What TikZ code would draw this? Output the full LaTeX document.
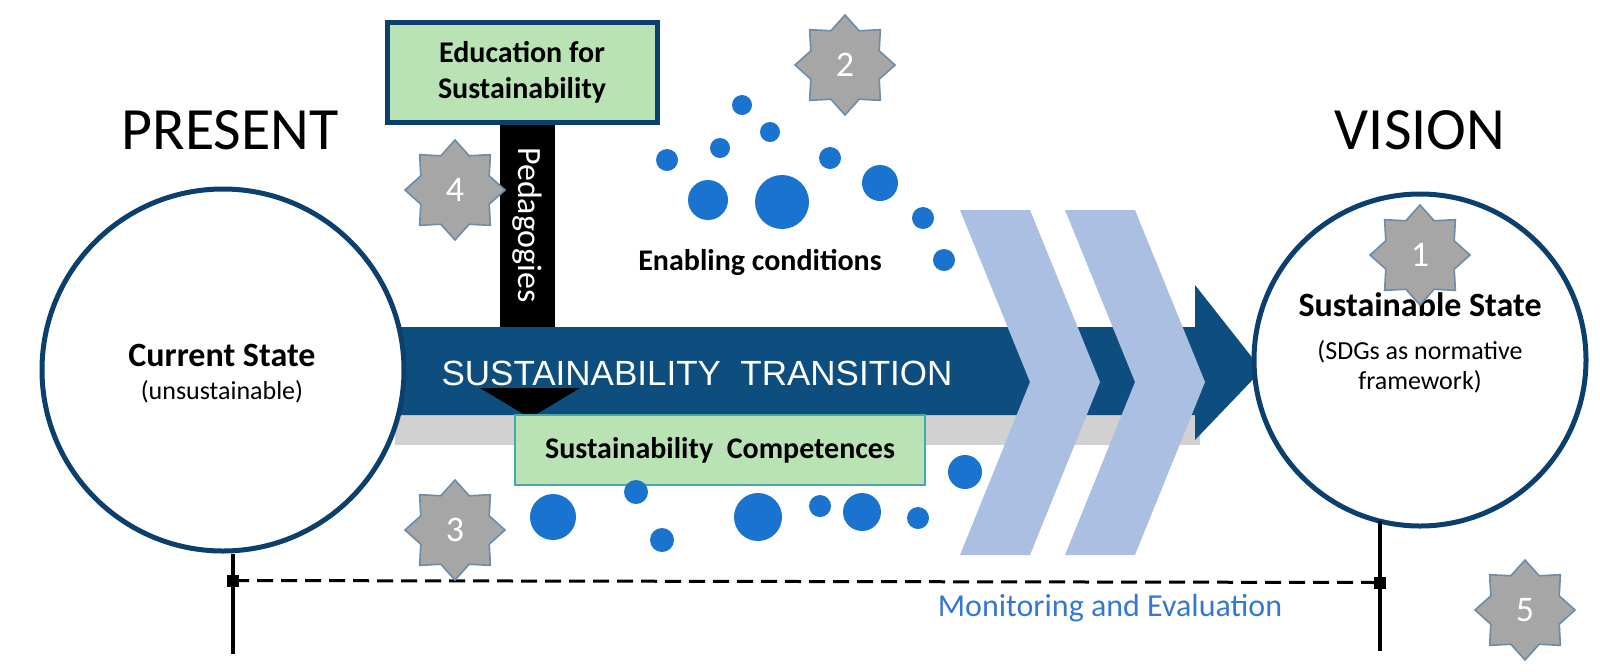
\documentclass[tikz,border=0pt]{standalone}
\usepackage{fontspec}
\setmainfont{Carlito}
\newfontfamily\arialfont{Liberation Sans}
\usetikzlibrary{shapes.geometric}
\definecolor{navy}{HTML}{0B3F6E}
\definecolor{band}{HTML}{0E4E7E}
\definecolor{chev}{HTML}{AABFE2}
\definecolor{leaf}{HTML}{B9E2B5}
\definecolor{dot}{HTML}{1A73CF}
\definecolor{badge}{HTML}{A6A6A6}
\definecolor{mon}{HTML}{3578D4}
\newcommand{\fs}[1]{\fontsize{#1}{#1}\selectfont}
\begin{document}
\begin{tikzpicture}[x=0.5pt,y=-0.5pt]
\tikzstyle{state}=[circle,draw=navy,line width=2.5pt,fill=white,inner sep=0pt]
\tikzstyle{badge}=[star,star points=8,star point ratio=1.35,fill=badge,draw=navy!60,line width=0.8pt,
  minimum size=50pt,inner sep=0pt,text=white,font=\fs{18}]
\tikzstyle{box}=[rectangle,fill=leaf,font=\bfseries\fs{15},align=center]
\tikzstyle{bubble}=[fill=dot]

\useasboundingbox (0,0) rectangle (1600,671);

% SHADOW
\fill[black!18] (395,415) rectangle (1200,445);

% PEDAGOGIES
\fill[black] (500,120) rectangle (555,330);
\node[rotate=-90,text=white,font=\fs{17}] (ped) at (527,225) {Pedagogies};

% TRANSITION BAND
\fill[band] (395,327) -- (1195,327) -- (1195,285) -- (1262,370) -- (1195,440) -- (1195,415) -- (395,415) -- cycle;
\node[text=white,font=\arialfont\fs{17.5}] (trans) at (697,373) {SUSTAINABILITY\ \ TRANSITION};
\fill[black] (480,388) -- (580,388) -- (530,418) -- cycle;

% CHEVRONS
\fill[chev] (960,210) -- (1030,210) -- (1100,382) -- (1030,555) -- (960,555) -- (1030,382) -- cycle;
\fill[chev] (1065,210) -- (1135,210) -- (1205,382) -- (1135,555) -- (1065,555) -- (1135,382) -- cycle;

% STATES
\node[state,minimum size=181pt] (cur) at (223,370) {};
\node[state,minimum size=166pt] (sus) at (1420,360) {};
\node[font=\bfseries\fs{17}] (curT) at (222,355) {Current State};
\node[font=\fs{13}] (curS) at (222,392) {(unsustainable)};
\node[font=\bfseries\fs{17}] (susT) at (1420,305) {Sustainable State};
\node[font=\fs{13},align=center] (susS) at (1420,367) {(SDGs as normative\\[2pt]framework)};
\node[font=\fs{30}] (present) at (230,130) {PRESENT};
\node[font=\fs{30}] (vision) at (1420,130) {VISION};

% BOXES
\node[box,draw=navy,line width=2.5pt,minimum width=135pt,minimum height=50pt] (efs) at (522,72) {Education for\\[3pt]Sustainability};
\node[box,draw=teal!70,line width=0.8pt,minimum width=205pt,minimum height=35pt] (comp) at (720,450) {Sustainability\ \ Competences};
\node[font=\bfseries\fs{15}] (enab) at (760,262) {Enabling conditions};

% DOTS
\foreach \px/\py/\r in {742/105/10,720/148/10,770/132/10,667/160/11,708/200/20,782/202/27,830/158/11,
  880/183/18,923/218/11,944/260/11,965/472/17,553/517/23,636/492/12,662/540/12,758/517/24,
  820/506/11,862/512/19,918/518/11}
  \fill[bubble] (\px,\py) circle[radius=\r];

% MONITORING
\draw[line width=2pt] (cur.south) ++(10,0) coordinate (ml0) -- ++(0,100) coordinate (ml1);
\draw[line width=2pt] (sus.south) ++(-40,-8) coordinate (mr0) -- ++(0,130) coordinate (mr1);
\path (ml0) ++(0,27) coordinate (dl);
\path (mr0) ++(0,62) coordinate (dr);
\draw[line width=1.5pt,dash pattern=on 8pt off 4pt] (dl) -- (dr);
\fill[black] (dl) ++(-6,-6) rectangle ++(12,12);
\fill[black] (dr) ++(-6,-6) rectangle ++(12,12);
\node[text=mon,font=\fs{16}] (moni) at (1110,608) {Monitoring and Evaluation};

% BADGES
\node[badge] (b1) at (1420,255) {1};
\node[badge] (b2) at (845,65) {2};
\node[badge] (b3) at (455,530) {3};
\node[badge] (b4) at (455,190) {4};
\node[badge] (b5) at (1525,610) {5};
\end{tikzpicture}
\end{document}
